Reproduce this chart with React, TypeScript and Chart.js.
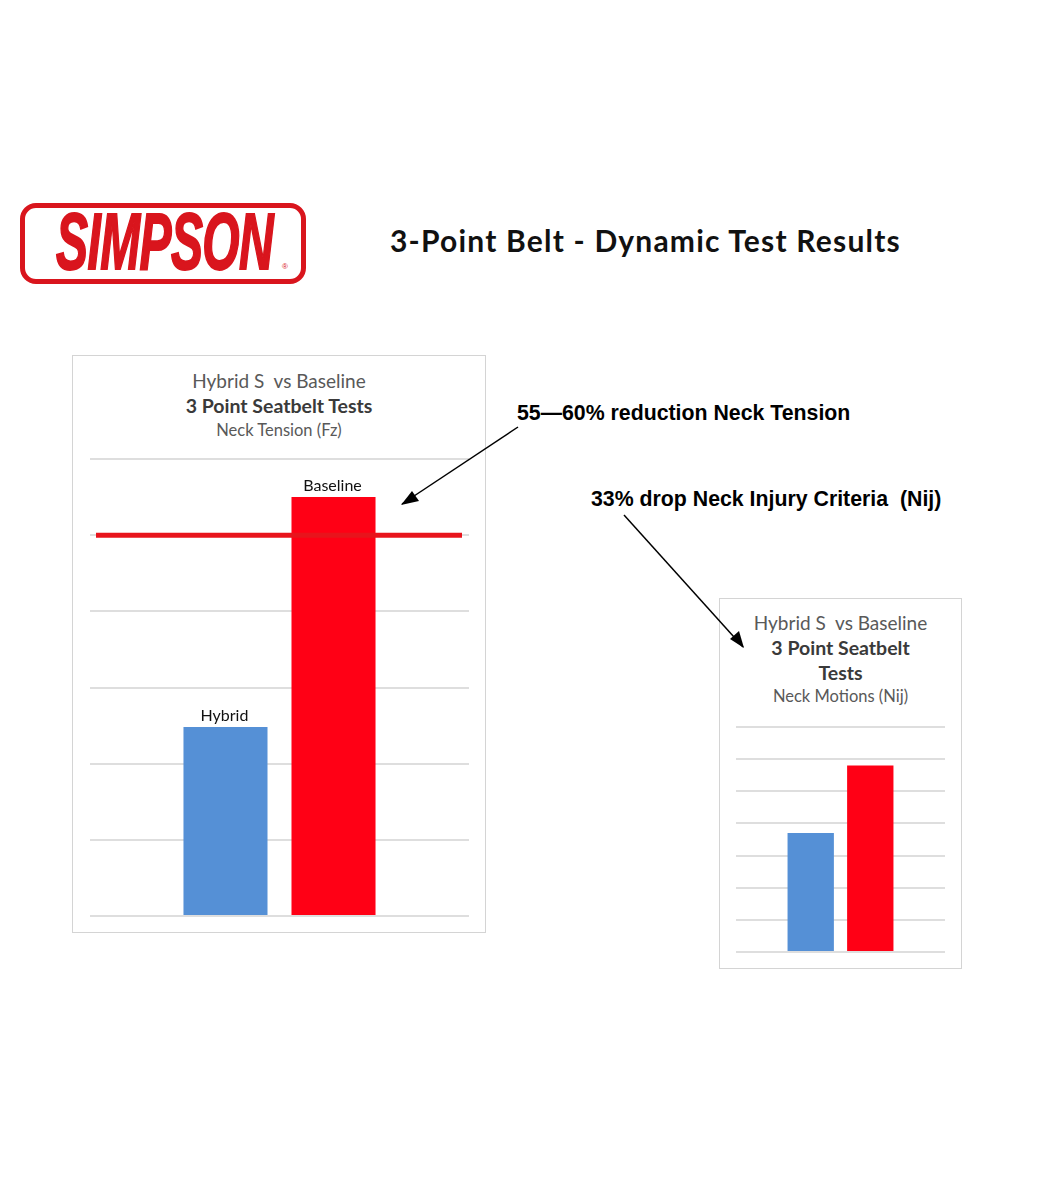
import React, { useEffect, useRef } from "react";
import { Chart, registerables } from "chart.js";

Chart.register(...registerables);

// ---- data ----
const tensionCategories = ["Neck Tension (Fz)"];
const tensionSeries = ["Hybrid", "Baseline"];
const tensionHybrid = [2.48];
const tensionBaseline = [5.5];
const tensionThreshold = 5.0;
const tensionMax = 6;
const tensionStep = 1;

const nijCategories = ["Neck Motions (Nij)"];
const nijSeries = ["Hybrid", "Baseline"];
const nijHybrid = [0.37];
const nijBaseline = [0.58];
const nijMax = 0.7;
const nijStep = 0.1;

const BLUE = "#5590d6";
const RED = "#ff0015";
const LINE_RED = "#e8141c";
const GRID = "#dedede";

const labelPlugin = {
  id: "barLabels",
  afterDatasetsDraw(chart: any, _a: any, opts: any) {
    if (!opts || !opts.show) return;
    const ctx = chart.ctx;
    ctx.save();
    ctx.font = "16px Lato";
    ctx.fillStyle = "#111";
    ctx.textAlign = "center";
    ctx.textBaseline = "alphabetic";
    chart.data.datasets.forEach((ds: any, i: number) => {
      const meta = chart.getDatasetMeta(i);
      meta.data.forEach((bar: any) => {
        ctx.fillText(ds.label, bar.x - 1, bar.y - 6);
      });
    });
    ctx.restore();
  },
};

const thresholdPlugin = {
  id: "threshold",
  afterDatasetsDraw(chart: any, _a: any, opts: any) {
    if (!opts || opts.value == null) return;
    const { ctx, chartArea, scales } = chart;
    const y = scales.y.getPixelForValue(opts.value);
    ctx.save();
    ctx.strokeStyle = LINE_RED;
    ctx.lineWidth = 5;
    ctx.beginPath();
    ctx.moveTo(chartArea.left + 6, y);
    ctx.lineTo(chartArea.right - 7, y);
    ctx.stroke();
    ctx.restore();
  },
};

function BarPanel(props: {
  categories: string[];
  series: string[];
  hybrid: number[];
  baseline: number[];
  max: number;
  step: number;
  threshold?: number;
  showLabels?: boolean;
  style: React.CSSProperties;
}) {
  const ref = useRef<HTMLCanvasElement>(null);
  useEffect(() => {
    if (!ref.current) return;
    const chart = new Chart(ref.current, {
      type: "bar",
      data: {
        labels: props.categories,
        datasets: [
          { label: props.series[0], data: props.hybrid, backgroundColor: BLUE, categoryPercentage: 0.57, barPercentage: 0.778 },
          { label: props.series[1], data: props.baseline, backgroundColor: RED, categoryPercentage: 0.57, barPercentage: 0.778 },
        ],
      },
      options: {
        animation: false,
        responsive: false,
        maintainAspectRatio: false,
        layout: { padding: { top: 4, bottom: 4, left: 0, right: 0 } },
        scales: {
          x: { display: false },
          y: {
            min: 0,
            max: props.max,
            ticks: { display: false, stepSize: props.step },
            border: { display: false },
            grid: { color: GRID, lineWidth: 2, drawTicks: false },
          },
        },
        plugins: {
          legend: { display: false },
          tooltip: { enabled: false },
          title: { display: false },
          barLabels: { show: !!props.showLabels },
          threshold: { value: props.threshold ?? null },
        } as any,
      },
      plugins: [labelPlugin, thresholdPlugin],
    });
    return () => chart.destroy();
  }, []);
  const { width, height } = props.style as any;
  return <canvas ref={ref} width={width} height={height} style={{ position: "absolute", ...props.style }} />;
}

const titleFont = "Lato, 'Open Sans', sans-serif";

export default function App() {
  return (
    <div style={{ position: "absolute", left: 0, top: 0, width: 1050, height: 1200, background: "#fff", overflow: "hidden", fontFamily: titleFont }}>
      {/* logo */}
      <div style={{ position: "absolute", left: 20, top: 203, width: 276, height: 71, border: "5px solid #d9151d", borderRadius: 16 }} />
      <div style={{ position: "absolute", left: -2, top: 202, width: 290, height: 80, lineHeight: "80px", textAlign: "center", fontFamily: "'Liberation Sans', Arial, sans-serif", fontWeight: 700, fontStyle: "italic", fontSize: 80, color: "#d9151d", WebkitTextStroke: "2px #d9151d", transform: "scaleX(0.6)", transformOrigin: "center", letterSpacing: -1 }}>SIMPSON</div>
      <div style={{ position: "absolute", left: 282, top: 262, fontSize: 8, color: "#d9151d", fontFamily: "'Liberation Sans', Arial" }}>®</div>

      {/* main title */}
      <div style={{ position: "absolute", left: 390, top: 222, fontSize: 30, fontWeight: 700, color: "#111", whiteSpace: "pre", lineHeight: "36px", letterSpacing: 1.2 }}>3-Point Belt - Dynamic Test Results</div>

      {/* panel 1 */}
      <div style={{ position: "absolute", left: 72, top: 355, width: 412, height: 576, border: "1.5px solid #d4d4d4" }} />
      <div style={{ position: "absolute", left: 72, top: 368, width: 414, textAlign: "center", color: "#595959", whiteSpace: "pre", lineHeight: "25px" }}>
        <div style={{ fontSize: 19 }}>Hybrid S  vs Baseline</div>
        <div style={{ fontSize: 19.5, fontWeight: 700, color: "#3a3a3a", lineHeight: "26px" }}>3 Point Seatbelt Tests</div>
        <div style={{ fontSize: 16.5, lineHeight: "22px" }}>Neck Tension (Fz)</div>
      </div>
      <BarPanel
        categories={tensionCategories}
        series={tensionSeries}
        hybrid={tensionHybrid}
        baseline={tensionBaseline}
        max={tensionMax}
        step={tensionStep}
        threshold={tensionThreshold}
        showLabels
        style={{ left: 90, top: 455, width: 379, height: 465 }}
      />

      {/* panel 2 */}
      <div style={{ position: "absolute", left: 719, top: 598, width: 241, height: 369, border: "1.5px solid #d4d4d4" }} />
      <div style={{ position: "absolute", left: 719, top: 610, width: 243, textAlign: "center", color: "#595959", whiteSpace: "pre", lineHeight: "25px" }}>
        <div style={{ fontSize: 19 }}>Hybrid S  vs Baseline</div>
        <div style={{ fontSize: 19.5, fontWeight: 700, color: "#3a3a3a", lineHeight: "26px" }}>3 Point Seatbelt</div>
        <div style={{ fontSize: 19.5, fontWeight: 700, color: "#3a3a3a", lineHeight: "24px" }}>Tests</div>
        <div style={{ fontSize: 16.5, lineHeight: "22px" }}>Neck Motions (Nij)</div>
      </div>
      <BarPanel
        categories={nijCategories}
        series={nijSeries}
        hybrid={nijHybrid}
        baseline={nijBaseline}
        max={nijMax}
        step={nijStep}
        style={{ left: 736, top: 723, width: 209, height: 233 }}
      />

      {/* annotations */}
      <div style={{ position: "absolute", left: 517, top: 401, fontFamily: "'Liberation Sans', Arial, sans-serif", fontWeight: 700, fontSize: 21.3, color: "#000", whiteSpace: "pre", lineHeight: "24px" }}>55—60% reduction Neck Tension</div>
      <div style={{ position: "absolute", left: 591, top: 487, fontFamily: "'Liberation Sans', Arial, sans-serif", fontWeight: 700, fontSize: 21.3, color: "#000", whiteSpace: "pre", lineHeight: "24px" }}>33% drop Neck Injury Criteria  (Nij)</div>
      <svg width={1050} height={1200} style={{ position: "absolute", left: 0, top: 0, pointerEvents: "none" }}>
        <line x1={518} y1={427} x2={402} y2={504} stroke="#000" strokeWidth={1.5} />
        <polygon points="401,505 412,491 419,501" fill="#000" />
        <line x1={624} y1={515} x2={743} y2={647} stroke="#000" strokeWidth={1.5} />
        <polygon points="744,648 730,639 739,631" fill="#000" />
      </svg>
    </div>
  );
}
